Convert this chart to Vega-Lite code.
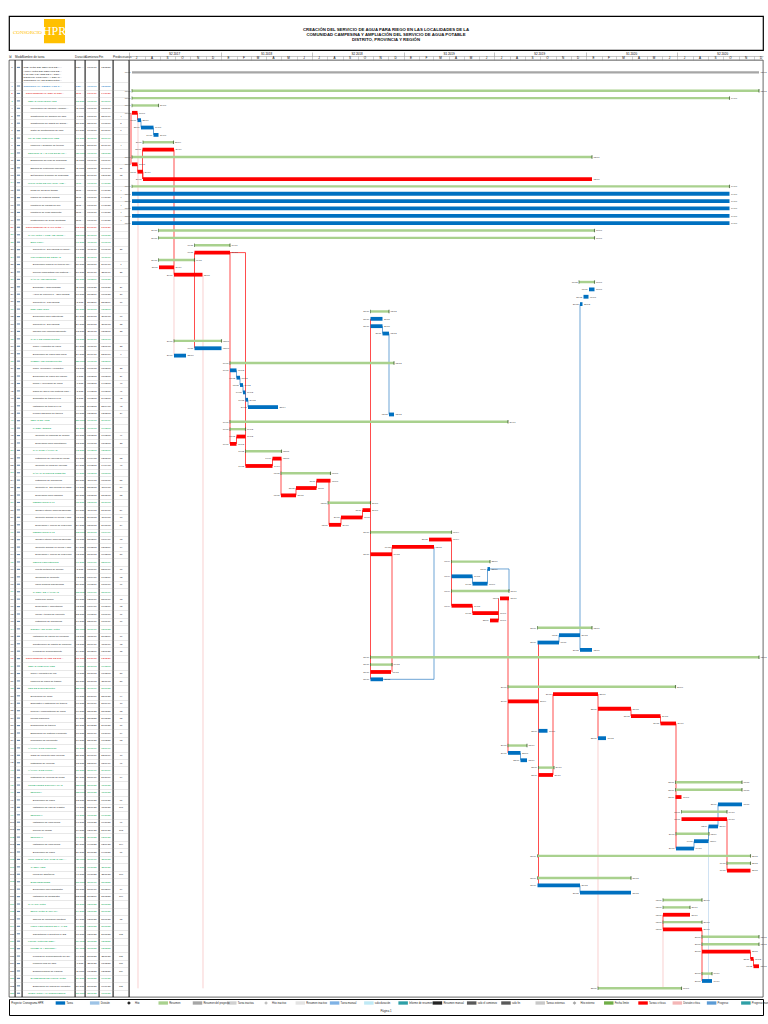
{
"$schema":"https://vega.github.io/schema/vega-lite/v6.json",
"padding":{"left":8,"top":15,"right":4,"bottom":4},
"config":{"font":"Liberation Sans","view":{"stroke":"#000","strokeWidth":0.6},"title":{"fontWeight":"normal","fontSize":3,"color":"#222"}},
"resolve":{"scale":{"color":"independent"}},
"datasets":{
"tasks":[
{"id":0,"r":-2.5,"lvl":0,"k":"p","n":"CREACIÓN DEL SERVICIO DE AGUA PARA RIEGO Y\nAMPLIACIÓN DEL SERVICIO DE AGUA POTABLE EN\nLAS LOCALIDADES DE LA COMUNIDAD CAMPESINA,\nDISTRITO, PROVINCIA Y DEPARTAMENTO\nCRONOGRAMA DE EJECUCIÓN DE OBRA","s":"2017-07-07","e":"2020-12-12","d":"1254 días","p":""},
{"id":1,"r":0,"lvl":0,"k":"s","n":"CRONOGRAMA GENERAL DE OBRA","s":"2017-07-07","e":"2020-12-12","d":"1254 días","p":""},
{"id":2,"r":1,"lvl":1,"k":"s","n":"COMPONENTE 01: OBRAS GENERALES","s":"2017-07-07","e":"2020-10-14","d":"1195 días","p":""},
{"id":3,"r":2,"lvl":2,"k":"s","n":"OBRAS PROVISIONALES","s":"2017-07-07","e":"2017-08-29","d":"53 días","p":""},
{"id":4,"r":3,"lvl":3,"k":"c","n":"Movilización de equipos y maquinaria","s":"2017-07-07","e":"2017-07-18","d":"11 días","p":""},
{"id":5,"r":4,"lvl":3,"k":"t","n":"Construcción de almacén de obra","s":"2017-07-18","e":"2017-07-25","d":"7 días","p":"4"},
{"id":6,"r":5,"lvl":3,"k":"t","n":"Construcción de caseta de guardianía","s":"2017-07-25","e":"2017-08-19","d":"25 días","p":"5"},
{"id":7,"r":6,"lvl":3,"k":"t","n":"Cartel de identificación de obra","s":"2017-08-19","e":"2017-08-29","d":"10 días","p":"6"},
{"id":8,"r":7,"lvl":2,"k":"s","n":"TRABAJOS PRELIMINARES","s":"2017-07-29","e":"2017-09-28","d":"61 días","p":""},
{"id":9,"r":8,"lvl":3,"k":"c","n":"Limpieza y desbroce de terreno","s":"2017-07-28","e":"2017-09-29","d":"63 días","p":"4"},
{"id":10,"r":9,"lvl":2,"k":"s","n":"SEGURIDAD Y SALUD EN EL TRABAJO","s":"2017-07-07","e":"2020-01-13","d":"920 días","p":""},
{"id":11,"r":10,"lvl":3,"k":"c","n":"Elaboración del plan de seguridad","s":"2017-07-07","e":"2017-07-18","d":"11 días","p":""},
{"id":12,"r":11,"lvl":3,"k":"c","n":"Equipos de protección individual","s":"2017-07-18","e":"2017-07-29","d":"11 días","p":"11"},
{"id":13,"r":12,"lvl":3,"k":"c","n":"Señalización temporal de seguridad","s":"2017-07-29","e":"2020-01-13","d":"898 días","p":"12"},
{"id":14,"r":13,"lvl":2,"k":"s","n":"MITIGACIÓN DE IMPACTO AMBIENTAL","s":"2017-07-07","e":"2020-10-14","d":"1195 días","p":""},
{"id":15,"r":14,"lvl":3,"k":"t","n":"Riego de áreas de trabajo","s":"2017-07-07","e":"2020-10-14","d":"1195 días","p":"4"},
{"id":16,"r":15,"lvl":3,"k":"t","n":"Manejo de residuos sólidos","s":"2017-07-07","e":"2020-10-14","d":"1195 días","p":"4"},
{"id":17,"r":16,"lvl":3,"k":"t","n":"Monitoreo de calidad de aire","s":"2017-07-07","e":"2020-10-14","d":"1195 días","p":"4"},
{"id":18,"r":17,"lvl":3,"k":"t","n":"Monitoreo de ruido ambiental","s":"2017-07-07","e":"2020-10-14","d":"1195 días","p":"4"},
{"id":19,"r":18,"lvl":3,"k":"t","n":"Restauración de áreas afectadas","s":"2017-07-07","e":"2020-10-14","d":"1195 días","p":"4"},
{"id":20,"r":19,"lvl":1,"k":"s","n":"COMPONENTE 02: CAPTACIÓN Y CONDUCCIÓN","s":"2017-08-29","e":"2020-01-18","d":"872 días","p":""},
{"id":21,"r":20,"lvl":2,"k":"s","n":"CAPTACIÓN Y LÍNEA DE CONDUCCIÓN","s":"2017-08-29","e":"2020-01-18","d":"872 días","p":""},
{"id":22,"r":21,"lvl":3,"k":"s","n":"BOCATOMA","s":"2017-11-09","e":"2018-01-19","d":"71 días","p":""},
{"id":23,"r":22,"lvl":4,"k":"c","n":"Concreto f'c=210 kg/cm2 en bocatoma","s":"2017-11-09","e":"2018-01-19","d":"71 días","p":"25"},
{"id":24,"r":23,"lvl":3,"k":"s","n":"MOVIMIENTO DE TIERRAS","s":"2017-08-29","e":"2017-11-09","d":"72 días","p":""},
{"id":25,"r":24,"lvl":4,"k":"c","n":"Excavación manual en terreno normal","s":"2017-08-30","e":"2017-09-29","d":"30 días","p":"7"},
{"id":26,"r":25,"lvl":4,"k":"c","n":"Relleno compactado con material propio","s":"2017-09-29","e":"2017-11-25","d":"57 días","p":"25"},
{"id":27,"r":26,"lvl":3,"k":"s","n":"CÁMARA DE REUNIÓN","s":"2019-12-18","e":"2020-01-18","d":"31 días","p":""},
{"id":28,"r":27,"lvl":4,"k":"t","n":"Encofrado y desencofrado","s":"2020-01-07","e":"2020-01-18","d":"11 días","p":"29"},
{"id":29,"r":28,"lvl":4,"k":"t","n":"Acero de refuerzo fy=4200 kg/cm2","s":"2019-12-27","e":"2020-01-06","d":"10 días","p":"30"},
{"id":30,"r":29,"lvl":4,"k":"t","n":"Concreto f'c=175 kg/cm2","s":"2019-12-20","e":"2019-12-25","d":"5 días","p":"76"},
{"id":31,"r":30,"lvl":3,"k":"s","n":"DESARENADOR","s":"2018-10-27","e":"2018-12-03","d":"37 días","p":""},
{"id":32,"r":31,"lvl":4,"k":"t","n":"Excavación para estructuras","s":"2018-10-27","e":"2018-11-20","d":"24 días","p":"60"},
{"id":33,"r":32,"lvl":4,"k":"t","n":"Concreto f'c=210 kg/cm2","s":"2018-10-27","e":"2018-11-20","d":"24 días","p":"32"},
{"id":34,"r":33,"lvl":4,"k":"t","n":"Tarrajeo con impermeabilizante","s":"2018-11-20","e":"2018-12-03","d":"13 días","p":"33"},
{"id":35,"r":34,"lvl":3,"k":"s","n":"CANAL DE CONDUCCIÓN","s":"2017-09-29","e":"2018-01-02","d":"95 días","p":""},
{"id":36,"r":35,"lvl":4,"k":"t","n":"Trazo y replanteo de canal","s":"2017-11-09","e":"2018-01-02","d":"54 días","p":"23"},
{"id":37,"r":36,"lvl":4,"k":"t","n":"Excavación de zanja para canal","s":"2017-09-29","e":"2017-10-23","d":"24 días","p":"9"},
{"id":38,"r":37,"lvl":3,"k":"s","n":"TUBERÍA DE CONDUCCIÓN","s":"2018-01-19","e":"2018-12-13","d":"328 días","p":""},
{"id":39,"r":38,"lvl":4,"k":"t","n":"Trazo, nivelación y replanteo","s":"2018-01-19","e":"2018-02-01","d":"13 días","p":"23"},
{"id":40,"r":39,"lvl":4,"k":"t","n":"Excavación de zanja con equipo","s":"2018-02-01","e":"2018-02-08","d":"7 días","p":"39"},
{"id":41,"r":40,"lvl":4,"k":"t","n":"Refine y nivelación de zanja","s":"2018-02-08","e":"2018-02-14","d":"6 días","p":"40"},
{"id":42,"r":41,"lvl":4,"k":"t","n":"Cama de apoyo con material zarandeado","s":"2018-02-14","e":"2018-02-19","d":"5 días","p":"41"},
{"id":43,"r":42,"lvl":4,"k":"t","n":"Suministro de tubería PVC","s":"2018-02-19","e":"2018-02-24","d":"5 días","p":"42"},
{"id":44,"r":43,"lvl":4,"k":"t","n":"Instalación de tubería PVC","s":"2018-02-24","e":"2018-04-25","d":"60 días","p":"43"},
{"id":45,"r":44,"lvl":4,"k":"t","n":"Prueba hidráulica de tubería","s":"2018-12-03","e":"2018-12-13","d":"10 días","p":"34"},
{"id":46,"r":45,"lvl":3,"k":"s","n":"OBRAS DE ARTE","s":"2018-01-19","e":"2019-07-29","d":"556 días","p":""},
{"id":47,"r":46,"lvl":4,"k":"s","n":"PASES AÉREOS","s":"2018-01-19","e":"2018-02-19","d":"31 días","p":""},
{"id":48,"r":47,"lvl":5,"k":"c","n":"Concreto en cámaras de anclaje","s":"2018-02-01","e":"2018-02-19","d":"18 días","p":"49"},
{"id":49,"r":48,"lvl":5,"k":"c","n":"Excavación para cimentación","s":"2018-01-19","e":"2018-02-01","d":"13 días","p":"23"},
{"id":50,"r":49,"lvl":4,"k":"s","n":"CAJAS DE VÁLVULAS","s":"2018-02-19","e":"2018-05-02","d":"72 días","p":""},
{"id":51,"r":50,"lvl":5,"k":"c","n":"Instalación de válvulas de purga","s":"2018-04-14","e":"2018-05-02","d":"18 días","p":"52"},
{"id":52,"r":51,"lvl":5,"k":"c","n":"Concreto en cajas de válvulas","s":"2018-02-19","e":"2018-04-14","d":"54 días","p":"48"},
{"id":53,"r":52,"lvl":4,"k":"s","n":"CÁMARAS ROMPE PRESIÓN","s":"2018-05-01","e":"2018-08-08","d":"99 días","p":""},
{"id":54,"r":53,"lvl":5,"k":"c","n":"Instalación de accesorios","s":"2018-07-11","e":"2018-08-08","d":"28 días","p":"55"},
{"id":55,"r":54,"lvl":5,"k":"c","n":"Concreto f'c=210 kg/cm2 en cámaras","s":"2018-05-31","e":"2018-07-11","d":"41 días","p":"56"},
{"id":56,"r":55,"lvl":5,"k":"c","n":"Excavación para cámaras","s":"2018-05-01","e":"2018-05-31","d":"30 días","p":"52"},
{"id":57,"r":56,"lvl":4,"k":"s","n":"RESERVORIO R-01","s":"2018-08-03","e":"2018-10-27","d":"85 días","p":""},
{"id":58,"r":57,"lvl":5,"k":"c","n":"Tarrajeo interior impermeabilizado","s":"2018-10-11","e":"2018-10-27","d":"16 días","p":"59"},
{"id":59,"r":58,"lvl":5,"k":"c","n":"Concreto armado en muros y losa","s":"2018-08-29","e":"2018-10-11","d":"43 días","p":"60"},
{"id":60,"r":59,"lvl":5,"k":"c","n":"Excavación y relleno de reservorio","s":"2018-08-05","e":"2018-08-29","d":"24 días","p":"54"},
{"id":61,"r":60,"lvl":4,"k":"s","n":"RESERVORIO R-02","s":"2018-10-27","e":"2019-04-07","d":"162 días","p":""},
{"id":62,"r":61,"lvl":5,"k":"c","n":"Tarrajeo interior impermeabilizado","s":"2019-02-21","e":"2019-04-07","d":"45 días","p":"63"},
{"id":63,"r":62,"lvl":5,"k":"c","n":"Concreto armado en muros y losa","s":"2018-12-09","e":"2019-03-03","d":"84 días","p":"64"},
{"id":64,"r":63,"lvl":5,"k":"c","n":"Excavación y relleno de reservorio","s":"2018-10-27","e":"2018-12-09","d":"43 días","p":"58"},
{"id":65,"r":64,"lvl":4,"k":"s","n":"CERCO PERIMÉTRICO","s":"2019-04-07","e":"2019-06-23","d":"77 días","p":""},
{"id":66,"r":65,"lvl":5,"k":"t","n":"Puerta metálica de acceso","s":"2019-06-18","e":"2019-06-23","d":"5 días","p":"68"},
{"id":67,"r":66,"lvl":5,"k":"t","n":"Columnas de concreto","s":"2019-04-07","e":"2019-05-19","d":"42 días","p":"62"},
{"id":68,"r":67,"lvl":5,"k":"t","n":"Malla olímpica galvanizada","s":"2019-05-19","e":"2019-06-18","d":"30 días","p":"67"},
{"id":69,"r":68,"lvl":4,"k":"s","n":"CASETA DE VÁLVULAS","s":"2019-04-07","e":"2019-07-31","d":"115 días","p":""},
{"id":70,"r":69,"lvl":5,"k":"c","n":"Pintura de muros","s":"2019-07-13","e":"2019-07-31","d":"18 días","p":"73"},
{"id":71,"r":70,"lvl":5,"k":"c","n":"Excavación y cimentación","s":"2019-04-07","e":"2019-05-19","d":"42 días","p":"62"},
{"id":72,"r":71,"lvl":5,"k":"c","n":"Muros y techos de concreto","s":"2019-05-19","e":"2019-07-10","d":"52 días","p":"71"},
{"id":73,"r":72,"lvl":5,"k":"c","n":"Instalación de accesorios","s":"2019-06-23","e":"2019-07-10","d":"17 días","p":"66"},
{"id":74,"r":73,"lvl":3,"k":"s","n":"SISTEMA DE CLORACIÓN","s":"2019-09-26","e":"2020-01-13","d":"109 días","p":""},
{"id":75,"r":74,"lvl":4,"k":"t","n":"Instalación de equipo de cloración","s":"2019-11-08","e":"2019-12-20","d":"42 días","p":"76"},
{"id":76,"r":75,"lvl":4,"k":"t","n":"Construcción de caseta de cloración","s":"2019-09-26","e":"2019-11-08","d":"43 días","p":"72"},
{"id":77,"r":76,"lvl":4,"k":"t","n":"Pruebas de funcionamiento","s":"2019-12-20","e":"2020-01-13","d":"24 días","p":"75"},
{"id":78,"r":77,"lvl":1,"k":"s","n":"COMPONENTE 03: RED DE DISTRIBUCIÓN","s":"2018-10-27","e":"2020-12-12","d":"777 días","p":""},
{"id":79,"r":78,"lvl":2,"k":"s","n":"OBRAS PRELIMINARES","s":"2018-10-27","e":"2018-12-09","d":"43 días","p":""},
{"id":80,"r":79,"lvl":3,"k":"c","n":"Trazo y replanteo de red","s":"2018-10-27","e":"2018-12-07","d":"41 días","p":"58"},
{"id":81,"r":80,"lvl":3,"k":"t","n":"Limpieza de franja de trabajo","s":"2018-10-27","e":"2018-11-21","d":"25 días","p":"58"},
{"id":82,"r":81,"lvl":2,"k":"s","n":"RED DE DISTRIBUCIÓN","s":"2019-07-29","e":"2020-06-28","d":"335 días","p":""},
{"id":83,"r":82,"lvl":3,"k":"c","n":"Excavación de zanja","s":"2019-10-27","e":"2020-01-25","d":"90 días","p":"94"},
{"id":84,"r":83,"lvl":3,"k":"c","n":"Suministro e instalación de tubería","s":"2019-07-29","e":"2019-09-28","d":"61 días","p":"70"},
{"id":85,"r":84,"lvl":3,"k":"c","n":"Relleno y compactación de zanja","s":"2020-01-25","e":"2020-03-31","d":"66 días","p":"83"},
{"id":86,"r":85,"lvl":3,"k":"c","n":"Prueba hidráulica","s":"2020-03-31","e":"2020-05-29","d":"59 días","p":"85"},
{"id":87,"r":86,"lvl":3,"k":"c","n":"Desinfección de tubería","s":"2020-05-29","e":"2020-06-29","d":"31 días","p":"86"},
{"id":88,"r":87,"lvl":3,"k":"t","n":"Eliminación de material excedente","s":"2019-09-28","e":"2019-10-16","d":"18 días","p":"84"},
{"id":89,"r":88,"lvl":3,"k":"t","n":"Reposición de pavimento","s":"2020-01-25","e":"2020-02-10","d":"16 días","p":"83"},
{"id":90,"r":89,"lvl":2,"k":"s","n":"VÁLVULAS DE CONTROL","s":"2019-07-29","e":"2019-09-05","d":"38 días","p":""},
{"id":91,"r":90,"lvl":3,"k":"t","n":"Cajas de concreto para válvulas","s":"2019-07-29","e":"2019-08-23","d":"25 días","p":"70"},
{"id":92,"r":91,"lvl":3,"k":"t","n":"Instalación de válvulas","s":"2019-08-23","e":"2019-09-05","d":"13 días","p":"91"},
{"id":93,"r":92,"lvl":2,"k":"s","n":"VÁLVULAS DE PURGA","s":"2019-09-28","e":"2019-10-29","d":"31 días","p":""},
{"id":94,"r":93,"lvl":3,"k":"c","n":"Instalación de válvulas de purga","s":"2019-09-28","e":"2019-10-27","d":"29 días","p":"84"},
{"id":95,"r":94,"lvl":2,"k":"s","n":"CONEXIONES DOMICILIARIAS","s":"2020-06-28","e":"2020-11-08","d":"133 días","p":""},
{"id":96,"r":95,"lvl":3,"k":"s","n":"SECTOR I","s":"2020-06-28","e":"2020-11-08","d":"133 días","p":""},
{"id":97,"r":96,"lvl":4,"k":"c","n":"Excavación de zanja","s":"2020-06-28","e":"2020-07-10","d":"12 días","p":"87"},
{"id":98,"r":97,"lvl":4,"k":"t","n":"Instalación de caja de registro","s":"2020-09-21","e":"2020-11-08","d":"48 días","p":"101"},
{"id":99,"r":98,"lvl":3,"k":"s","n":"SECTOR II","s":"2020-07-10","e":"2020-10-09","d":"91 días","p":""},
{"id":100,"r":99,"lvl":4,"k":"c","n":"Instalación de conexiones","s":"2020-07-10","e":"2020-10-09","d":"91 días","p":"97"},
{"id":101,"r":100,"lvl":4,"k":"t","n":"Relleno de zanjas","s":"2020-09-02","e":"2020-09-21","d":"19 días","p":"103"},
{"id":102,"r":101,"lvl":3,"k":"s","n":"SECTOR III","s":"2020-06-29","e":"2020-09-03","d":"66 días","p":""},
{"id":103,"r":102,"lvl":4,"k":"t","n":"Instalación de conexiones","s":"2020-08-04","e":"2020-09-02","d":"29 días","p":"104"},
{"id":104,"r":103,"lvl":4,"k":"t","n":"Excavación de zanja","s":"2020-06-29","e":"2020-08-04","d":"36 días","p":"87"},
{"id":105,"r":104,"lvl":2,"k":"s","n":"UNIDADES BÁSICAS DE SANEAMIENTO","s":"2019-09-26","e":"2020-11-25","d":"426 días","p":""},
{"id":106,"r":105,"lvl":3,"k":"s","n":"CASETA UBS","s":"2020-10-09","e":"2020-11-25","d":"47 días","p":""},
{"id":107,"r":106,"lvl":4,"k":"c","n":"Muros de albañilería","s":"2020-10-09","e":"2020-11-25","d":"47 días","p":"100"},
{"id":108,"r":107,"lvl":3,"k":"s","n":"BIODIGESTORES","s":"2019-09-26","e":"2020-03-31","d":"187 días","p":""},
{"id":109,"r":108,"lvl":4,"k":"t","n":"Excavación para biodigestor","s":"2019-09-26","e":"2019-12-20","d":"85 días","p":"84"},
{"id":110,"r":109,"lvl":4,"k":"t","n":"Instalación de biodigestor","s":"2019-12-20","e":"2020-03-31","d":"102 días","p":"109"},
{"id":111,"r":110,"lvl":2,"k":"s","n":"CAPACITACIÓN","s":"2020-06-03","e":"2020-08-20","d":"78 días","p":""},
{"id":112,"r":111,"lvl":3,"k":"s","n":"EDUCACIÓN SANITARIA","s":"2020-06-03","e":"2020-07-27","d":"54 días","p":""},
{"id":113,"r":112,"lvl":4,"k":"c","n":"Talleres de educación sanitaria","s":"2020-06-03","e":"2020-07-27","d":"54 días","p":"85"},
{"id":114,"r":113,"lvl":3,"k":"s","n":"FORTALECIMIENTO DE LA JASS","s":"2020-06-03","e":"2020-08-20","d":"78 días","p":""},
{"id":115,"r":114,"lvl":4,"k":"c","n":"Capacitación a directivos JASS","s":"2020-06-03","e":"2020-08-20","d":"78 días","p":"113"},
{"id":116,"r":115,"lvl":2,"k":"s","n":"LIQUIDACIÓN DE OBRA","s":"2020-08-20","e":"2020-12-12","d":"114 días","p":""},
{"id":117,"r":116,"lvl":3,"k":"s","n":"PRUEBAS Y ENTREGA","s":"2020-08-20","e":"2020-12-12","d":"114 días","p":""},
{"id":118,"r":117,"lvl":4,"k":"c","n":"Pruebas de funcionamiento del sistema","s":"2020-08-20","e":"2020-11-25","d":"97 días","p":"115"},
{"id":119,"r":118,"lvl":4,"k":"c","n":"Limpieza final de obra","s":"2020-11-25","e":"2020-12-01","d":"6 días","p":"118"},
{"id":120,"r":119,"lvl":4,"k":"c","n":"Desmovilización de equipos","s":"2020-12-01","e":"2020-12-12","d":"11 días","p":"119"},
{"id":121,"r":120,"lvl":3,"k":"s","n":"EXPEDIENTE DE LIQUIDACIÓN","s":"2020-08-20","e":"2020-09-09","d":"20 días","p":""},
{"id":122,"r":121,"lvl":4,"k":"t","n":"Elaboración de planos de replanteo","s":"2020-08-20","e":"2020-09-09","d":"20 días","p":"115"},
{"id":123,"r":122,"lvl":2,"k":"s","n":"OPERACIÓN Y MANTENIMIENTO","s":"2020-01-25","e":"2020-07-10","d":"167 días","p":""}
],
"links":[
{"x":"2017-07-05","r1":3,"r2":10,"k":"c"},
{"x":"2017-07-18","r1":3,"r2":4,"k":"c"},
{"x":"2017-07-18","r1":10,"r2":11,"k":"c"},
{"x":"2017-07-29","r1":11,"r2":12,"k":"c"},
{"x":"2017-07-19","r1":4,"r2":122,"k":"pc"},
{"x":"2017-07-25","r1":4,"r2":5,"k":"n"},
{"x":"2017-08-19","r1":5,"r2":6,"k":"n"},
{"x":"2017-07-28","r1":8,"r2":12,"k":"c"},
{"x":"2017-09-29","r1":8,"r2":25,"k":"c"},
{"x":"2017-09-29","r1":25,"r2":36,"k":"pc"},
{"x":"2017-11-09","r1":22,"r2":35,"k":"c"},
{"x":"2017-11-26","r1":25,"r2":122,"k":"pc"},
{"x":"2018-01-19","r1":22,"r2":48,"k":"c"},
{"x":"2018-02-19","r1":22,"r2":51,"k":"c"},
{"x":"2018-02-01","r1":47,"r2":48,"k":"c"},
{"x":"2018-04-14","r1":50,"r2":51,"k":"c"},
{"x":"2018-05-01","r1":50,"r2":55,"k":"c"},
{"x":"2018-05-31","r1":54,"r2":55,"k":"c"},
{"x":"2018-07-11","r1":53,"r2":54,"k":"c"},
{"x":"2018-08-05","r1":53,"r2":59,"k":"c"},
{"x":"2018-08-29","r1":58,"r2":59,"k":"c"},
{"x":"2018-10-11","r1":57,"r2":58,"k":"c"},
{"x":"2018-10-27","r1":31,"r2":80,"k":"c"},
{"x":"2018-02-01","r1":38,"r2":39,"k":"n"},
{"x":"2018-02-08","r1":39,"r2":40,"k":"n"},
{"x":"2018-02-14","r1":40,"r2":41,"k":"n"},
{"x":"2018-02-19","r1":41,"r2":42,"k":"n"},
{"x":"2018-02-24","r1":42,"r2":43,"k":"n"},
{"x":"2018-11-20","r1":32,"r2":33,"k":"n"},
{"x":"2018-12-03","r1":33,"r2":44,"k":"n"},
{"x":"2019-12-20","r1":29,"r2":76,"k":"n"},
{"x":"2018-12-09","r1":62,"r2":79,"k":"c"},
{"x":"2019-03-03","r1":62,"r2":80,"k":"n"},
{"x":"2019-04-07","r1":61,"r2":70,"k":"c"},
{"x":"2019-05-19","r1":70,"r2":71,"k":"c"},
{"x":"2019-07-10","r1":69,"r2":72,"k":"c"},
{"x":"2019-05-19","r1":66,"r2":67,"k":"n"},
{"x":"2019-06-18","r1":65,"r2":67,"k":"n"},
{"x":"2019-07-31","r1":65,"r2":68,"k":"n"},
{"x":"2019-07-29","r1":69,"r2":90,"k":"c"},
{"x":"2019-09-28","r1":75,"r2":108,"k":"c"},
{"x":"2019-11-08","r1":74,"r2":75,"k":"n"},
{"x":"2019-10-27","r1":82,"r2":93,"k":"c"},
{"x":"2020-01-25","r1":82,"r2":88,"k":"c"},
{"x":"2020-01-25","r1":88,"r2":122,"k":"pc"},
{"x":"2020-03-31","r1":84,"r2":85,"k":"c"},
{"x":"2020-05-29","r1":85,"r2":86,"k":"c"},
{"x":"2019-08-23","r1":90,"r2":91,"k":"n"},
{"x":"2020-06-29","r1":86,"r2":103,"k":"c"},
{"x":"2020-09-21","r1":97,"r2":100,"k":"n"},
{"x":"2020-09-02","r1":100,"r2":102,"k":"n"},
{"x":"2020-09-02","r1":102,"r2":121,"k":"pn"},
{"x":"2020-08-04","r1":102,"r2":103,"k":"n"},
{"x":"2020-10-09","r1":99,"r2":106,"k":"c"},
{"x":"2019-12-20","r1":108,"r2":109,"k":"n"},
{"x":"2020-06-03","r1":112,"r2":114,"k":"c"},
{"x":"2020-06-03","r1":114,"r2":122,"k":"pc"},
{"x":"2020-08-20","r1":114,"r2":121,"k":"c"},
{"x":"2020-11-25","r1":117,"r2":118,"k":"c"},
{"x":"2020-12-01","r1":118,"r2":119,"k":"c"}
],
"hlinks":[
{"r":22,"x1":"2018-01-19","x2":"2018-02-19","k":"c"},
{"r":80,"x1":"2018-11-21","x2":"2019-03-03","k":"n"},
{"r":65,"x1":"2019-06-23","x2":"2019-07-31","k":"n"}
],
"legend":[
{"name":"Proyecto: Cronograma HPR","k":"info","row":1},
{"name":"Tarea","k":"bar","row":1},
{"name":"División","k":"bar","row":1},
{"name":"Hito","k":"hito","row":1},
{"name":"Resumen","k":"bar","row":1},
{"name":"Resumen del proyecto","k":"bar","row":1},
{"name":"Tarea inactiva","k":"bar","row":1},
{"name":"Hito inactivo","k":"hito","row":1},
{"name":"Resumen inactivo","k":"bar","row":1},
{"name":"Tarea manual","k":"bar","row":1},
{"name":"solo duración","k":"bar","row":1},
{"name":"Informe de resumen manual","k":"bar","row":1},
{"name":"Resumen manual","k":"bar","row":1},
{"name":"solo el comienzo","k":"bar","row":1},
{"name":"solo fin","k":"bar","row":1},
{"name":"Tareas externas","k":"bar","row":1},
{"name":"Hito externo","k":"hito","row":1},
{"name":"Fecha límite","k":"bar","row":1},
{"name":"Tareas críticas","k":"bar","row":1},
{"name":"División crítica","k":"bar","row":1},
{"name":"Progreso","k":"bar","row":1},
{"name":"Progreso manual","k":"bar","row":1}
]
},
"spacing":0,
"vconcat":[
{
"width":754,"height":34,
"view":{"stroke":"#000","strokeWidth":1.2},
"data":{"values":[{}]},
"layer":[
{"mark":{"type":"rect","color":"#ffc000"},"encoding":{"x":{"datum":0.0464,"type":"quantitative","scale":{"domain":[0,1]},"axis":null},"x2":{"datum":0.0743},"y":{"datum":0.09,"type":"quantitative","scale":{"domain":[0,1],"reverse":true},"axis":null},"y2":{"datum":0.8}}},
{"mark":{"type":"text","text":"HPR","font":"Liberation Serif","fontSize":12,"color":"#ffffff","align":"center","baseline":"middle"},"encoding":{"x":{"datum":0.0603,"type":"quantitative","scale":{"domain":[0,1]},"axis":null},"y":{"datum":0.45,"type":"quantitative","scale":{"domain":[0,1],"reverse":true},"axis":null}}},
{"mark":{"type":"text","text":"CONSORCIO","font":"Liberation Serif","fontSize":5,"color":"#ffc000","align":"left","baseline":"middle"},"encoding":{"x":{"datum":0.0053,"type":"quantitative","scale":{"domain":[0,1]},"axis":null},"y":{"datum":0.47,"type":"quantitative","scale":{"domain":[0,1],"reverse":true},"axis":null}}},
{"mark":{"type":"text","text":["CREACIÓN DEL SERVICIO DE AGUA PARA RIEGO EN LAS LOCALIDADES DE LA","COMUNIDAD CAMPESINA Y AMPLIACIÓN DEL SERVICIO DE AGUA POTABLE","DISTRITO, PROVINCIA Y REGIÓN"],"fontSize":4.3,"fontWeight":"bold","color":"#111","align":"center","baseline":"middle","lineHeight":5},"encoding":{"x":{"datum":0.5,"type":"quantitative","scale":{"domain":[0,1]},"axis":null},"y":{"datum":0.4,"type":"quantitative","scale":{"domain":[0,1],"reverse":true},"axis":null}}}
]
},
{
"spacing":0,
"bounds":"flush",
"hconcat":[
{"width":6,"height":937,"data":{"name":"tasks"},"title":{"text":"Id","anchor":"start","offset":1.5},
"mark":{"type":"text","fontSize":2.5,"align":"center","baseline":"middle"},
"encoding":{"y":{"field":"r","type":"quantitative","scale":{"domain":[-3.5,122.5],"reverse":true,"nice":false,"zero":false},"axis":{"values":[-0.5,0.5,1.5,2.5,3.5,4.5,5.5,6.5,7.5,8.5,9.5,10.5,11.5,12.5,13.5,14.5,15.5,16.5,17.5,18.5,19.5,20.5,21.5,22.5,23.5,24.5,25.5,26.5,27.5,28.5,29.5,30.5,31.5,32.5,33.5,34.5,35.5,36.5,37.5,38.5,39.5,40.5,41.5,42.5,43.5,44.5,45.5,46.5,47.5,48.5,49.5,50.5,51.5,52.5,53.5,54.5,55.5,56.5,57.5,58.5,59.5,60.5,61.5,62.5,63.5,64.5,65.5,66.5,67.5,68.5,69.5,70.5,71.5,72.5,73.5,74.5,75.5,76.5,77.5,78.5,79.5,80.5,81.5,82.5,83.5,84.5,85.5,86.5,87.5,88.5,89.5,90.5,91.5,92.5,93.5,94.5,95.5,96.5,97.5,98.5,99.5,100.5,101.5,102.5,103.5,104.5,105.5,106.5,107.5,108.5,109.5,110.5,111.5,112.5,113.5,114.5,115.5,116.5,117.5,118.5,119.5,120.5,121.5],"grid":true,"gridColor":"#c4c4c4","gridWidth":0.4,"labels":false,"ticks":false,"domain":false,"title":null}},
"text":{"field":"id"},
"color":{"condition":[{"test":"datum.k=='s' && datum.lvl==0","value":"#0070c0"},{"test":"datum.lvl==1","value":"#e00000"},{"test":"datum.k=='s'","value":"#00a651"}],"value":"#1a1a1a"}}},
{"width":7,"height":937,"data":{"name":"tasks"},"title":{"text":"Modo","anchor":"start","offset":1.5},
"mark":{"type":"point","filled":true,"shape":"M-1,-0.35L1,-0.35L1,0.35L-1,0.35Z","size":10,"color":"#6f8fb0","opacity":1},
"encoding":{"y":{"field":"r","type":"quantitative","scale":{"domain":[-3.5,122.5],"reverse":true,"nice":false,"zero":false},"axis":{"values":[-0.5,0.5,1.5,2.5,3.5,4.5,5.5,6.5,7.5,8.5,9.5,10.5,11.5,12.5,13.5,14.5,15.5,16.5,17.5,18.5,19.5,20.5,21.5,22.5,23.5,24.5,25.5,26.5,27.5,28.5,29.5,30.5,31.5,32.5,33.5,34.5,35.5,36.5,37.5,38.5,39.5,40.5,41.5,42.5,43.5,44.5,45.5,46.5,47.5,48.5,49.5,50.5,51.5,52.5,53.5,54.5,55.5,56.5,57.5,58.5,59.5,60.5,61.5,62.5,63.5,64.5,65.5,66.5,67.5,68.5,69.5,70.5,71.5,72.5,73.5,74.5,75.5,76.5,77.5,78.5,79.5,80.5,81.5,82.5,83.5,84.5,85.5,86.5,87.5,88.5,89.5,90.5,91.5,92.5,93.5,94.5,95.5,96.5,97.5,98.5,99.5,100.5,101.5,102.5,103.5,104.5,105.5,106.5,107.5,108.5,109.5,110.5,111.5,112.5,113.5,114.5,115.5,116.5,117.5,118.5,119.5,120.5,121.5],"grid":true,"gridColor":"#c4c4c4","gridWidth":0.4,"labels":false,"ticks":false,"domain":false,"title":null}}}},
{"width":53,"height":937,"data":{"name":"tasks"},"title":{"text":"Nombre de tarea","anchor":"start","offset":1.5},
"mark":{"type":"text","fontSize":2.4,"align":"left","baseline":"middle","lineBreak":"\n","lineHeight":3.1,"limit":39},
"encoding":{"x":{"field":"lvl","type":"quantitative","scale":{"domain":[-0.6,22],"nice":false,"zero":false},"axis":null},
"y":{"field":"r","type":"quantitative","scale":{"domain":[-3.5,122.5],"reverse":true,"nice":false,"zero":false},"axis":{"values":[-0.5,0.5,1.5,2.5,3.5,4.5,5.5,6.5,7.5,8.5,9.5,10.5,11.5,12.5,13.5,14.5,15.5,16.5,17.5,18.5,19.5,20.5,21.5,22.5,23.5,24.5,25.5,26.5,27.5,28.5,29.5,30.5,31.5,32.5,33.5,34.5,35.5,36.5,37.5,38.5,39.5,40.5,41.5,42.5,43.5,44.5,45.5,46.5,47.5,48.5,49.5,50.5,51.5,52.5,53.5,54.5,55.5,56.5,57.5,58.5,59.5,60.5,61.5,62.5,63.5,64.5,65.5,66.5,67.5,68.5,69.5,70.5,71.5,72.5,73.5,74.5,75.5,76.5,77.5,78.5,79.5,80.5,81.5,82.5,83.5,84.5,85.5,86.5,87.5,88.5,89.5,90.5,91.5,92.5,93.5,94.5,95.5,96.5,97.5,98.5,99.5,100.5,101.5,102.5,103.5,104.5,105.5,106.5,107.5,108.5,109.5,110.5,111.5,112.5,113.5,114.5,115.5,116.5,117.5,118.5,119.5,120.5,121.5],"grid":true,"gridColor":"#c4c4c4","gridWidth":0.4,"labels":false,"ticks":false,"domain":false,"title":null}},
"text":{"field":"n"},
"color":{"condition":[{"test":"datum.k=='s' && datum.lvl==0","value":"#0070c0"},{"test":"datum.lvl==1","value":"#e00000"},{"test":"datum.k=='s'","value":"#00a651"}],"value":"#1a1a1a"}}},
{"width":10,"height":937,"data":{"name":"tasks"},"title":{"text":"Duración","anchor":"start","offset":1.5},
"mark":{"type":"text","fontSize":2.4,"align":"center","baseline":"middle","limit":9.5},
"encoding":{"y":{"field":"r","type":"quantitative","scale":{"domain":[-3.5,122.5],"reverse":true,"nice":false,"zero":false},"axis":{"values":[-0.5,0.5,1.5,2.5,3.5,4.5,5.5,6.5,7.5,8.5,9.5,10.5,11.5,12.5,13.5,14.5,15.5,16.5,17.5,18.5,19.5,20.5,21.5,22.5,23.5,24.5,25.5,26.5,27.5,28.5,29.5,30.5,31.5,32.5,33.5,34.5,35.5,36.5,37.5,38.5,39.5,40.5,41.5,42.5,43.5,44.5,45.5,46.5,47.5,48.5,49.5,50.5,51.5,52.5,53.5,54.5,55.5,56.5,57.5,58.5,59.5,60.5,61.5,62.5,63.5,64.5,65.5,66.5,67.5,68.5,69.5,70.5,71.5,72.5,73.5,74.5,75.5,76.5,77.5,78.5,79.5,80.5,81.5,82.5,83.5,84.5,85.5,86.5,87.5,88.5,89.5,90.5,91.5,92.5,93.5,94.5,95.5,96.5,97.5,98.5,99.5,100.5,101.5,102.5,103.5,104.5,105.5,106.5,107.5,108.5,109.5,110.5,111.5,112.5,113.5,114.5,115.5,116.5,117.5,118.5,119.5,120.5,121.5],"grid":true,"gridColor":"#c4c4c4","gridWidth":0.4,"labels":false,"ticks":false,"domain":false,"title":null}},
"text":{"field":"d"},
"color":{"condition":[{"test":"datum.k=='s' && datum.lvl==0","value":"#0070c0"},{"test":"datum.lvl==1","value":"#e00000"},{"test":"datum.k=='s'","value":"#00a651"}],"value":"#1a1a1a"}}},
{"width":14,"height":937,"data":{"name":"tasks"},"title":{"text":"Comienzo","anchor":"start","offset":1.5},
"mark":{"type":"text","fontSize":2.4,"align":"center","baseline":"middle"},
"encoding":{"y":{"field":"r","type":"quantitative","scale":{"domain":[-3.5,122.5],"reverse":true,"nice":false,"zero":false},"axis":{"values":[-0.5,0.5,1.5,2.5,3.5,4.5,5.5,6.5,7.5,8.5,9.5,10.5,11.5,12.5,13.5,14.5,15.5,16.5,17.5,18.5,19.5,20.5,21.5,22.5,23.5,24.5,25.5,26.5,27.5,28.5,29.5,30.5,31.5,32.5,33.5,34.5,35.5,36.5,37.5,38.5,39.5,40.5,41.5,42.5,43.5,44.5,45.5,46.5,47.5,48.5,49.5,50.5,51.5,52.5,53.5,54.5,55.5,56.5,57.5,58.5,59.5,60.5,61.5,62.5,63.5,64.5,65.5,66.5,67.5,68.5,69.5,70.5,71.5,72.5,73.5,74.5,75.5,76.5,77.5,78.5,79.5,80.5,81.5,82.5,83.5,84.5,85.5,86.5,87.5,88.5,89.5,90.5,91.5,92.5,93.5,94.5,95.5,96.5,97.5,98.5,99.5,100.5,101.5,102.5,103.5,104.5,105.5,106.5,107.5,108.5,109.5,110.5,111.5,112.5,113.5,114.5,115.5,116.5,117.5,118.5,119.5,120.5,121.5],"grid":true,"gridColor":"#c4c4c4","gridWidth":0.4,"labels":false,"ticks":false,"domain":false,"title":null}},
"text":{"field":"s","type":"temporal","timeUnit":"utcyearmonthdate","format":"%d/%m/%y"},
"color":{"condition":[{"test":"datum.k=='s' && datum.lvl==0","value":"#0070c0"},{"test":"datum.lvl==1","value":"#e00000"},{"test":"datum.k=='s'","value":"#00a651"}],"value":"#1a1a1a"}}},
{"width":14,"height":937,"data":{"name":"tasks"},"title":{"text":"Fin","anchor":"start","offset":1.5},
"mark":{"type":"text","fontSize":2.4,"align":"center","baseline":"middle"},
"encoding":{"y":{"field":"r","type":"quantitative","scale":{"domain":[-3.5,122.5],"reverse":true,"nice":false,"zero":false},"axis":{"values":[-0.5,0.5,1.5,2.5,3.5,4.5,5.5,6.5,7.5,8.5,9.5,10.5,11.5,12.5,13.5,14.5,15.5,16.5,17.5,18.5,19.5,20.5,21.5,22.5,23.5,24.5,25.5,26.5,27.5,28.5,29.5,30.5,31.5,32.5,33.5,34.5,35.5,36.5,37.5,38.5,39.5,40.5,41.5,42.5,43.5,44.5,45.5,46.5,47.5,48.5,49.5,50.5,51.5,52.5,53.5,54.5,55.5,56.5,57.5,58.5,59.5,60.5,61.5,62.5,63.5,64.5,65.5,66.5,67.5,68.5,69.5,70.5,71.5,72.5,73.5,74.5,75.5,76.5,77.5,78.5,79.5,80.5,81.5,82.5,83.5,84.5,85.5,86.5,87.5,88.5,89.5,90.5,91.5,92.5,93.5,94.5,95.5,96.5,97.5,98.5,99.5,100.5,101.5,102.5,103.5,104.5,105.5,106.5,107.5,108.5,109.5,110.5,111.5,112.5,113.5,114.5,115.5,116.5,117.5,118.5,119.5,120.5,121.5],"grid":true,"gridColor":"#c4c4c4","gridWidth":0.4,"labels":false,"ticks":false,"domain":false,"title":null}},
"text":{"field":"e","type":"temporal","timeUnit":"utcyearmonthdate","format":"%d/%m/%y"},
"color":{"condition":[{"test":"datum.k=='s' && datum.lvl==0","value":"#0070c0"},{"test":"datum.lvl==1","value":"#e00000"},{"test":"datum.k=='s'","value":"#00a651"}],"value":"#1a1a1a"}}},
{"width":16,"height":937,"data":{"name":"tasks"},"title":{"text":"Predecesoras","anchor":"start","offset":1.5},
"mark":{"type":"text","fontSize":2.4,"align":"center","baseline":"middle"},
"encoding":{"y":{"field":"r","type":"quantitative","scale":{"domain":[-3.5,122.5],"reverse":true,"nice":false,"zero":false},"axis":{"values":[-0.5,0.5,1.5,2.5,3.5,4.5,5.5,6.5,7.5,8.5,9.5,10.5,11.5,12.5,13.5,14.5,15.5,16.5,17.5,18.5,19.5,20.5,21.5,22.5,23.5,24.5,25.5,26.5,27.5,28.5,29.5,30.5,31.5,32.5,33.5,34.5,35.5,36.5,37.5,38.5,39.5,40.5,41.5,42.5,43.5,44.5,45.5,46.5,47.5,48.5,49.5,50.5,51.5,52.5,53.5,54.5,55.5,56.5,57.5,58.5,59.5,60.5,61.5,62.5,63.5,64.5,65.5,66.5,67.5,68.5,69.5,70.5,71.5,72.5,73.5,74.5,75.5,76.5,77.5,78.5,79.5,80.5,81.5,82.5,83.5,84.5,85.5,86.5,87.5,88.5,89.5,90.5,91.5,92.5,93.5,94.5,95.5,96.5,97.5,98.5,99.5,100.5,101.5,102.5,103.5,104.5,105.5,106.5,107.5,108.5,109.5,110.5,111.5,112.5,113.5,114.5,115.5,116.5,117.5,118.5,119.5,120.5,121.5],"grid":true,"gridColor":"#c4c4c4","gridWidth":0.4,"labels":false,"ticks":false,"domain":false,"title":null}},
"text":{"field":"p"},
"color":{"condition":[{"test":"datum.k=='s' && datum.lvl==0","value":"#0070c0"},{"test":"datum.lvl==1","value":"#e00000"},{"test":"datum.k=='s'","value":"#00a651"}],"value":"#1a1a1a"}}},
{"width":634,"height":937,
"resolve":{"axis":{"x":"independent"}},
"layer":[
{"data":{"name":"links"},"mark":{"type":"rule","strokeWidth":0.7},
"encoding":{"x":{"field":"x","type":"temporal","scale":{"type":"utc","domain":[{"year":2017,"month":7,"date":1,"utc":true},{"year":2020,"month":12,"date":20,"utc":true}]},"axis":{"orient":"top","title":null,"offset":4,"tickCount":{"interval":"month","step":6},"labelExpr":"'S' + (utcmonth(datum.value) < 6 ? 1 : 2) + ' ' + utcyear(datum.value)","labelFontSize":3,"labelPadding":-3.6,"tickSize":4,"tickWidth":0.5,"domainWidth":0.5,"labelAlign":"center","labelOffset":45,"labelOverlap":false,"labelFlush":false,"grid":false}},
"y":{"field":"r1","type":"quantitative","scale":{"domain":[-3.5,122.5],"reverse":true,"nice":false,"zero":false},"axis":null},"y2":{"field":"r2"},
"color":{"field":"k","type":"nominal","scale":{"domain":["c","n","pc","pn"],"range":["#ff0000","#2f7ec4","#f6bcbc","#bcd6ee"]},"legend":null}}},
{"data":{"name":"hlinks"},"mark":{"type":"rule","strokeWidth":0.7},
"encoding":{"x":{"field":"x1","type":"temporal","scale":{"type":"utc","domain":[{"year":2017,"month":7,"date":1,"utc":true},{"year":2020,"month":12,"date":20,"utc":true}]},"axis":null},"x2":{"field":"x2"},
"y":{"field":"r","type":"quantitative","scale":{"domain":[-3.5,122.5],"reverse":true,"nice":false,"zero":false},"axis":null},
"color":{"field":"k","type":"nominal","scale":{"domain":["c","n","pc","pn"],"range":["#ff0000","#2f7ec4","#f6bcbc","#bcd6ee"]},"legend":null}}},
{"data":{"name":"tasks"},"transform":[{"filter":"datum.k=='s'"}],"mark":{"type":"bar","orient":"horizontal","size":2.4,"color":"#a9d18e"},
"encoding":{"x":{"field":"s","type":"temporal","scale":{"type":"utc","domain":[{"year":2017,"month":7,"date":1,"utc":true},{"year":2020,"month":12,"date":20,"utc":true}]},"axis":{"orient":"top","title":null,"tickCount":{"interval":"month","step":1},"labelExpr":"['E','F','M','A','M','J','J','A','S','O','N','D'][utcmonth(datum.value)]","labelFontSize":3,"labelPadding":-3.6,"tickSize":4,"tickWidth":0.4,"domainWidth":0.5,"labelAlign":"center","labelOffset":7,"labelOverlap":false,"labelFlush":false,"grid":false}},
"x2":{"field":"e"},
"y":{"field":"r","type":"quantitative","scale":{"domain":[-3.5,122.5],"reverse":true,"nice":false,"zero":false},"axis":null}}},
{"data":{"name":"tasks"},"transform":[{"filter":"datum.k=='s'"}],"mark":{"type":"tick","orient":"vertical","size":3.4,"thickness":0.8,"color":"#2f4f1f"},
"encoding":{"x":{"field":"s","type":"temporal","scale":{"type":"utc","domain":[{"year":2017,"month":7,"date":1,"utc":true},{"year":2020,"month":12,"date":20,"utc":true}]},"axis":null},
"y":{"field":"r","type":"quantitative","scale":{"domain":[-3.5,122.5],"reverse":true,"nice":false,"zero":false},"axis":null}}},
{"data":{"name":"tasks"},"transform":[{"filter":"datum.k=='s'"}],"mark":{"type":"tick","orient":"vertical","size":3.4,"thickness":1.1,"color":"#2f4f1f"},
"encoding":{"x":{"field":"e","type":"temporal","scale":{"type":"utc","domain":[{"year":2017,"month":7,"date":1,"utc":true},{"year":2020,"month":12,"date":20,"utc":true}]},"axis":null},
"y":{"field":"r","type":"quantitative","scale":{"domain":[-3.5,122.5],"reverse":true,"nice":false,"zero":false},"axis":null}}},
{"data":{"name":"tasks"},"transform":[{"filter":"datum.k=='p'"}],"mark":{"type":"bar","orient":"horizontal","size":2.4,"color":"#a6a6a6"},
"encoding":{"x":{"field":"s","type":"temporal","scale":{"type":"utc","domain":[{"year":2017,"month":7,"date":1,"utc":true},{"year":2020,"month":12,"date":20,"utc":true}]},"axis":null},"x2":{"field":"e"},
"y":{"field":"r","type":"quantitative","scale":{"domain":[-3.5,122.5],"reverse":true,"nice":false,"zero":false},"axis":null}}},
{"data":{"name":"tasks"},"transform":[{"filter":"datum.k=='t'"}],"mark":{"type":"bar","orient":"horizontal","size":3.8,"color":"#0070c0"},
"encoding":{"x":{"field":"s","type":"temporal","scale":{"type":"utc","domain":[{"year":2017,"month":7,"date":1,"utc":true},{"year":2020,"month":12,"date":20,"utc":true}]},"axis":null},"x2":{"field":"e"},
"y":{"field":"r","type":"quantitative","scale":{"domain":[-3.5,122.5],"reverse":true,"nice":false,"zero":false},"axis":null}}},
{"data":{"name":"tasks"},"transform":[{"filter":"datum.k=='c'"}],"mark":{"type":"bar","orient":"horizontal","size":3.8,"color":"#ff0000"},
"encoding":{"x":{"field":"s","type":"temporal","scale":{"type":"utc","domain":[{"year":2017,"month":7,"date":1,"utc":true},{"year":2020,"month":12,"date":20,"utc":true}]},"axis":null},"x2":{"field":"e"},
"y":{"field":"r","type":"quantitative","scale":{"domain":[-3.5,122.5],"reverse":true,"nice":false,"zero":false},"axis":null}}},
{"data":{"name":"tasks"},"mark":{"type":"text","fontSize":2.4,"align":"right","baseline":"middle","dx":-1.3,"color":"#404040"},
"encoding":{"x":{"field":"s","type":"temporal","scale":{"type":"utc","domain":[{"year":2017,"month":7,"date":1,"utc":true},{"year":2020,"month":12,"date":20,"utc":true}]},"axis":null},
"y":{"field":"r","type":"quantitative","scale":{"domain":[-3.5,122.5],"reverse":true,"nice":false,"zero":false},"axis":null},
"text":{"field":"s","type":"temporal","timeUnit":"utcyearmonthdate","format":"%d/%m"}}},
{"data":{"name":"tasks"},"mark":{"type":"text","fontSize":2.4,"align":"left","baseline":"middle","dx":1.5,"color":"#404040"},
"encoding":{"x":{"field":"e","type":"temporal","scale":{"type":"utc","domain":[{"year":2017,"month":7,"date":1,"utc":true},{"year":2020,"month":12,"date":20,"utc":true}]},"axis":null},
"y":{"field":"r","type":"quantitative","scale":{"domain":[-3.5,122.5],"reverse":true,"nice":false,"zero":false},"axis":null},
"text":{"field":"e","type":"temporal","timeUnit":"utcyearmonthdate","format":"%d/%m"}}}
]
}
]
},
{
"width":754,"height":16,
"view":{"stroke":"#000","strokeWidth":1},
"data":{"name":"legend"},
"layer":[
{"transform":[{"filter":"datum.k != 'info'"}],"mark":{"type":"point","filled":true,"opacity":1},
"encoding":{"x":{"field":"name","type":"nominal","sort":null,"scale":{"type":"point","padding":0.5,"domain":["Proyecto: Cronograma HPR","Tarea","División","Hito","Resumen","Resumen del proyecto","Tarea inactiva","Hito inactivo","Resumen inactivo","Tarea manual","solo duración","Informe de resumen manual","Resumen manual","solo el comienzo","solo fin","Tareas externas","Hito externo","Fecha límite","Tareas críticas","División crítica","Progreso","Progreso manual"]},"axis":null},
"y":{"field":"row","type":"ordinal","scale":{"type":"point","padding":0.5,"domain":[1,2]},"axis":null},
"shape":{"condition":{"test":"datum.k=='hito'","value":"diamond"},"value":"M-1,-0.35L1,-0.35L1,0.35L-1,0.35Z"},
"size":{"condition":{"test":"datum.k=='hito'","value":14},"value":90},
"color":{"field":"name","type":"nominal","scale":{"domain":["Tarea","División","Hito","Resumen","Resumen del proyecto","Tarea inactiva","Hito inactivo","Resumen inactivo","Tarea manual","solo duración","Informe de resumen manual","Resumen manual","solo el comienzo","solo fin","Tareas externas","Hito externo","Fecha límite","Tareas críticas","División crítica","Progreso","Progreso manual"],"range":["#0070c0","#9dc3e6","#262626","#a9d18e","#a6a6a6","#d0d0d0","#bfbfbf","#e3e3e3","#7fb2e5","#bfe9f5","#2e9fa6","#262626","#595959","#595959","#c8c8c8","#a6a6a6","#70ad47","#ff0000","#f4b6b6","#5b9bd5","#2e9fa6"]},"legend":null}}},
{"transform":[{"filter":"datum.k != 'info'"}],"mark":{"type":"text","fontSize":2.6,"align":"left","baseline":"middle","dx":6,"color":"#222"},
"encoding":{"x":{"field":"name","type":"nominal","sort":null,"scale":{"type":"point","padding":0.5,"domain":["Proyecto: Cronograma HPR","Tarea","División","Hito","Resumen","Resumen del proyecto","Tarea inactiva","Hito inactivo","Resumen inactivo","Tarea manual","solo duración","Informe de resumen manual","Resumen manual","solo el comienzo","solo fin","Tareas externas","Hito externo","Fecha límite","Tareas críticas","División crítica","Progreso","Progreso manual"]},"axis":null},
"y":{"field":"row","type":"ordinal","scale":{"type":"point","padding":0.5,"domain":[1,2]},"axis":null},
"text":{"field":"name"}}},
{"transform":[{"filter":"datum.k == 'info'"}],"mark":{"type":"text","fontSize":2.6,"align":"left","baseline":"middle","dx":-15,"color":"#222"},
"encoding":{"x":{"field":"name","type":"nominal","sort":null,"scale":{"type":"point","padding":0.5,"domain":["Proyecto: Cronograma HPR","Tarea","División","Hito","Resumen","Resumen del proyecto","Tarea inactiva","Hito inactivo","Resumen inactivo","Tarea manual","solo duración","Informe de resumen manual","Resumen manual","solo el comienzo","solo fin","Tareas externas","Hito externo","Fecha límite","Tareas críticas","División crítica","Progreso","Progreso manual"]},"axis":null},
"y":{"field":"row","type":"ordinal","scale":{"type":"point","padding":0.5,"domain":[1,2]},"axis":null},
"text":{"field":"name"}}},
{"data":{"values":[{"t":"Página 1","row":2}]},"mark":{"type":"text","fontSize":2.8,"align":"center","baseline":"middle","color":"#222"},
"encoding":{"y":{"field":"row","type":"ordinal","scale":{"type":"point","padding":0.5,"domain":[1,2]},"axis":null},"text":{"field":"t"}}}
]
}
]
}
